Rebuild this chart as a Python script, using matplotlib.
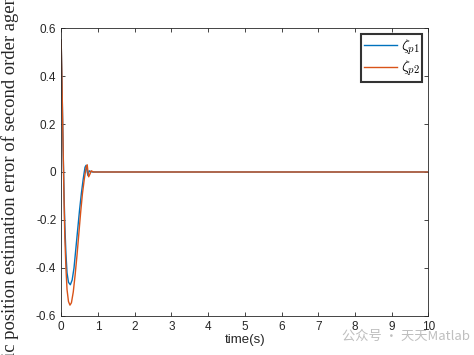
import numpy as np
import matplotlib
matplotlib.use('Agg')
import matplotlib.pyplot as plt

# values
t1 = [0, 0.02, 0.04, 0.06, 0.08, 0.10, 0.13, 0.16, 0.20, 0.25, 0.30, 0.35, 0.40, 0.45,
      0.50, 0.55, 0.60, 0.65, 0.68, 0.71, 0.73, 0.76, 0.80, 0.85, 10]
zeta_p1 = [0.55, 0.40, 0.22, 0.05, -0.10, -0.22, -0.34, -0.42, -0.46, -0.47, -0.45, -0.40,
           -0.32, -0.24, -0.16, -0.09, -0.03, 0.02, 0.028, 0.0, -0.015, 0.005, 0.002, 0.0, 0.0]

t2 = [0, 0.02, 0.04, 0.06, 0.08, 0.10, 0.13, 0.16, 0.20, 0.24, 0.28, 0.33, 0.38, 0.43,
      0.48, 0.53, 0.58, 0.63, 0.68, 0.71, 0.73, 0.75, 0.78, 0.82, 0.88, 10]
zeta_p2 = [0.55, 0.40, 0.22, 0.04, -0.13, -0.27, -0.40, -0.49, -0.54, -0.555, -0.545, -0.50,
           -0.43, -0.35, -0.26, -0.17, -0.09, -0.03, 0.02, 0.03, 0.0, -0.02, -0.01, 0.005, 0.0, 0.0]

xticks = np.arange(0, 11, 1)
yticks = [-0.6, -0.4, -0.2, 0, 0.2, 0.4, 0.6]

plt.rcParams['font.family'] = ['Liberation Sans', 'DejaVu Sans']
plt.rcParams['mathtext.fontset'] = 'cm'

fig = plt.figure(figsize=(4.74, 3.55), dpi=100)
ax = fig.add_axes([0.129, 0.110, 0.775, 0.811])

ax.plot(t1, zeta_p1, color='#0072BD', lw=1.0, label=r'$\zeta_{p1}$')
ax.plot(t2, zeta_p2, color='#D95319', lw=1.0, label=r'$\zeta_{p2}$')

ax.set_xlim(0, 10)
ax.set_ylim(-0.6, 0.6)
ax.set_xticks(xticks)
ax.set_yticks(yticks)
ax.set_yticklabels(['-0.6', '-0.4', '-0.2', '0', '0.2', '0.4', '0.6'])
ax.tick_params(direction='in', top=True, right=True, labelsize=8.5, colors='#262626',
               length=3, width=0.6)
for s in ax.spines.values():
    s.set_color('#262626')
    s.set_linewidth(0.6)

ax.set_xlabel('time(s)', fontsize=9.5, color='#262626', labelpad=1)
ax.set_ylabel('Dynamic position estimation error of second order agents',
              family='Liberation Serif', fontsize=13.4, color='#262626')
ax.yaxis.set_label_coords(-0.115, 0.412)

leg = ax.legend(loc='upper right', fontsize=11, frameon=True, fancybox=False,
                handlelength=2.2, borderpad=0.2, labelspacing=0.15, handletextpad=0.2,
                borderaxespad=0.4)
leg.get_frame().set_edgecolor('black')
leg.get_frame().set_linewidth(1.5)

fig.text(0.722, 0.044, '公众号 · 天天Matlab', family=['Noto Sans CJK SC', 'DejaVu Sans'],
         fontsize=9.5, color='#b8b8b8', alpha=0.9)

fig.savefig('out.png', dpi=100)
